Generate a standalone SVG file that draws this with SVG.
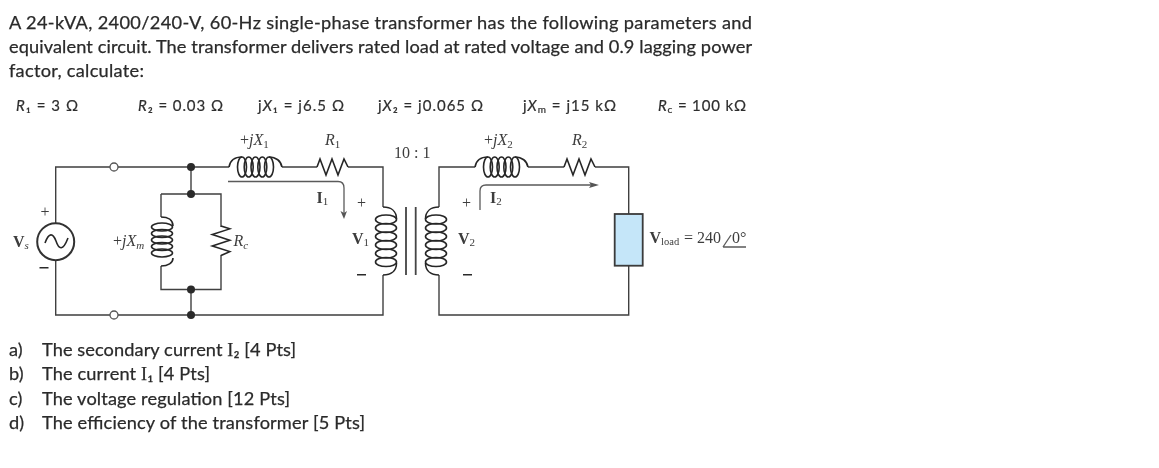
<svg xmlns="http://www.w3.org/2000/svg" width="1159" height="468" viewBox="0 0 1159 468">
<style>
.t{font-family:Lato,"Open Sans",sans-serif;font-size:18.2px;fill:#2a2a2a;stroke:#2a2a2a;stroke-width:.25}
.p{font-family:Lato,"Open Sans",sans-serif;font-size:15px;fill:#2f2f2f;stroke:#2f2f2f;stroke-width:.2}
.c{font-family:"Liberation Serif",serif;font-size:16px;fill:#3c3c3c}
.b{font-weight:bold}.i{font-style:italic}
.w{fill:none;stroke:#3f3f3f;stroke-width:1.4}
.k{fill:none;stroke:#262626;stroke-width:1.600}
.d{fill:#2a2a2a;stroke:none}
.o{fill:#fff;stroke:#555;stroke-width:1.3}
.a{fill:none;stroke:#5a5a5a;stroke-width:1.3}
</style>
<defs>
<filter id="s" x="-5%" y="-5%" width="110%" height="110%"><feGaussianBlur stdDeviation="0.35"/></filter>
<filter id="f" x="-2%" y="-10%" width="104%" height="120%"><feGaussianBlur stdDeviation="0.22"/></filter>
<g id="hc" class="k">
<path d="M0 0C1 -6 5 -10 13 -10M40 -10C47 -10 52 -6 53 0"/>
<ellipse cx="13" cy="0" rx="4.500" ry="10"/><ellipse cx="19.700" cy="0" rx="4.500" ry="10"/><ellipse cx="26.500" cy="0" rx="4.500" ry="10"/><ellipse cx="33.300" cy="0" rx="4.500" ry="10"/><ellipse cx="40" cy="0" rx="4.500" ry="10"/>
</g>
<g id="vc" class="k">
<path d="M0 0C8 0 13.500 4 13.500 12M13.500 56C13.500 64 8 68 0 68"/>
<ellipse cx="3" cy="12.500" rx="10.500" ry="4.500"/><ellipse cx="3" cy="21" rx="10.500" ry="4.500"/><ellipse cx="3" cy="29.500" rx="10.500" ry="4.500"/><ellipse cx="3" cy="38" rx="10.500" ry="4.500"/><ellipse cx="3" cy="46.500" rx="10.500" ry="4.500"/><ellipse cx="3" cy="55" rx="10.500" ry="4.500"/>
</g>
<path id="hr" class="k" d="M0 0L3 -8L9 8L15 -8L21 8L27 -8L31 0"/>
</defs>
<g id="statement" filter="url(#f)">
<text class="t" x="9" y="29" textLength="743">A 24-kVA, 2400/240-V, 60-Hz single-phase transformer has the following parameters and</text>
<text class="t" x="9" y="53" textLength="743">equivalent circuit. The transformer delivers rated load at rated voltage and 0.9 lagging power</text>
<text class="t" x="9" y="77" textLength="135">factor, calculate:</text>
</g>
<g id="parameters" filter="url(#f)">
<text class="p" x="16" y="111" textLength="62"><tspan class="i">R</tspan>₁ = 3 Ω</text>
<text class="p" x="138" y="111" textLength="85"><tspan class="i">R</tspan>₂ = 0.03 Ω</text>
<text class="p" x="258" y="111" textLength="86">j<tspan class="i">X</tspan>₁ = j6.5 Ω</text>
<text class="p" x="378" y="111" textLength="105">j<tspan class="i">X</tspan>₂ = j0.065 Ω</text>
<text class="p" x="523" y="111" textLength="93">j<tspan class="i">X</tspan><tspan font-size="10" dy="2">m</tspan><tspan dy="-2"> = j15 kΩ</tspan></text>
<text class="p" x="658" y="111" textLength="88"><tspan class="i">R</tspan><tspan font-size="10" dy="2">c</tspan><tspan dy="-2"> = 100 kΩ</tspan></text>
</g>
<g filter="url(#s)">
<g id="connectors">
<path class="w" d="M229 167H191M191 167H118M110 167H55.700V223M55.700 261V315H110M118 315H383V275M383 207V167H348M317 167H282M191 167V194M161 194H221V227M221 255V289.500H161V266M161 217V194M191 289.500V315M439 207V167H475M528 167H564M595 167H628.700V214M628.700 266V315H439V275"/>
<path class="a" d="M228 181.500H338Q344 181.500 344 188V214"/>
<path class="a" d="M480 210V191Q480 185 486 185H592"/>
</g>
<g id="source"><circle cx="55.700" cy="241.700" r="18.500" fill="#fff" stroke="#333" stroke-width="2"/><path class="k" d="M45 243C49 232 53 233 56 241C59 250 63 251 68 238"/></g>
<g id="junctions"><circle class="o" cx="114" cy="167" r="4"/><circle class="o" cx="114" cy="315" r="4"/><circle class="d" cx="191" cy="167" r="4"/><circle class="d" cx="191" cy="194" r="4"/><circle class="d" cx="191" cy="289.500" r="4"/><circle class="d" cx="191" cy="315" r="4"/></g>
<g id="Xm" class="k"><path d="M161 217C168 217 173 220 173 226M173 258C173 263 168 266 161 266"/><ellipse cx="162" cy="227" rx="10.500" ry="4"/><ellipse cx="162" cy="233.500" rx="10.500" ry="4"/><ellipse cx="162" cy="240" rx="10.500" ry="4"/><ellipse cx="162" cy="246.500" rx="10.500" ry="4"/><ellipse cx="162" cy="253" rx="10.500" ry="4"/></g>
<g id="Rc"><use href="#hr" transform="translate(221 226) rotate(90) scale(.95 1.100)"/></g>
<g id="X1"><use href="#hc" x="229" y="167"/></g>
<g id="R1"><use href="#hr" x="317" y="167"/></g>
<g id="primary"><use href="#vc" x="383" y="207"/></g>
<g id="core"><path d="M406 207V275M415.700 207V275" fill="none" stroke="#444" stroke-width="1.800"/></g>
<g id="secondary"><use href="#vc" transform="translate(439 207) scale(-1 1)"/></g>
<g id="X2"><use href="#hc" x="475" y="167"/></g>
<g id="R2"><use href="#hr" x="564" y="167"/></g>
<g id="load"><rect x="614.700" y="214" width="28" height="51.700" fill="#c5e6f9" stroke="#3a3a3a" stroke-width="1.800"/></g>
<g id="arrowheads"><path fill="#555" d="M340.500 211L344 219L347 211L344 213Z"/><path fill="#555" d="M589 182L599 185L589 188L591 185Z"/></g>
<g id="labels">
<text class="c" x="240" y="145">+<tspan class="i">jX</tspan><tspan font-size="11" dy="3">1</tspan></text>
<text class="c" x="325" y="145"><tspan class="i">R</tspan><tspan font-size="11" dy="3">1</tspan></text>
<text class="c" x="394" y="158" font-size="12.500">10 : 1</text>
<text class="c" x="484" y="145">+<tspan class="i">jX</tspan><tspan font-size="11" dy="3">2</tspan></text>
<text class="c" x="572" y="145"><tspan class="i">R</tspan><tspan font-size="11" dy="3">2</tspan></text>
<text class="c b" x="316.500" y="203">I<tspan font-size="11" font-weight="normal" dy="2">1</tspan></text>
<text class="c b" x="490" y="203">I<tspan font-size="11" font-weight="normal" dy="2">2</tspan></text>
<text class="c" x="357" y="208">+</text>
<text class="c" x="462" y="208">+</text>
<text class="c b" x="352" y="244">V<tspan font-size="11" font-weight="normal" dy="2">1</tspan></text>
<text class="c b" x="458" y="244">V<tspan font-size="11" font-weight="normal" dy="2">2</tspan></text>
<rect class="d" x="357" y="274" width="9" height="1.500"/>
<rect class="d" x="463" y="274" width="9" height="1.500"/>
<text class="c" x="40.500" y="217">+</text>
<rect class="d" x="39.500" y="267" width="9" height="1.500"/>
<text class="c b" x="13" y="247">V<tspan font-size="11" class="i" font-weight="normal" dy="2">s</tspan></text>
<text class="c" x="113" y="246">+<tspan class="i">jX</tspan><tspan class="i" font-size="11" dy="3">m</tspan></text>
<text class="c" x="233.500" y="246"><tspan class="i">R</tspan><tspan class="i" font-size="11" dy="3">c</tspan></text>
<text class="c b" x="649.500" y="243" font-size="14">V<tspan font-size="10.500" font-weight="normal" dy="2">load</tspan></text>
<text class="c" x="684" y="243" font-size="14">= 240</text>
<path class="a" d="M723 247L731 235M723 247H746"/>
<text class="c" x="732" y="243" font-size="14">0°</text>
</g>
</g>
<g id="questions" filter="url(#f)">
<text class="t" x="9" y="356">a)</text><text class="t" x="42" y="356" textLength="254">The secondary current <tspan font-family="Liberation Serif">I</tspan>₂ [4 Pts]</text>
<text class="t" x="9" y="380">b)</text><text class="t" x="42" y="380" textLength="168">The current <tspan font-family="Liberation Serif">I</tspan>₁ [4 Pts]</text>
<text class="t" x="9" y="405">c)</text><text class="t" x="42" y="405" textLength="248">The voltage regulation [12 Pts]</text>
<text class="t" x="9" y="429">d)</text><text class="t" x="42" y="429" textLength="323">The efficiency of the transformer [5 Pts]</text>
</g>
</svg>
